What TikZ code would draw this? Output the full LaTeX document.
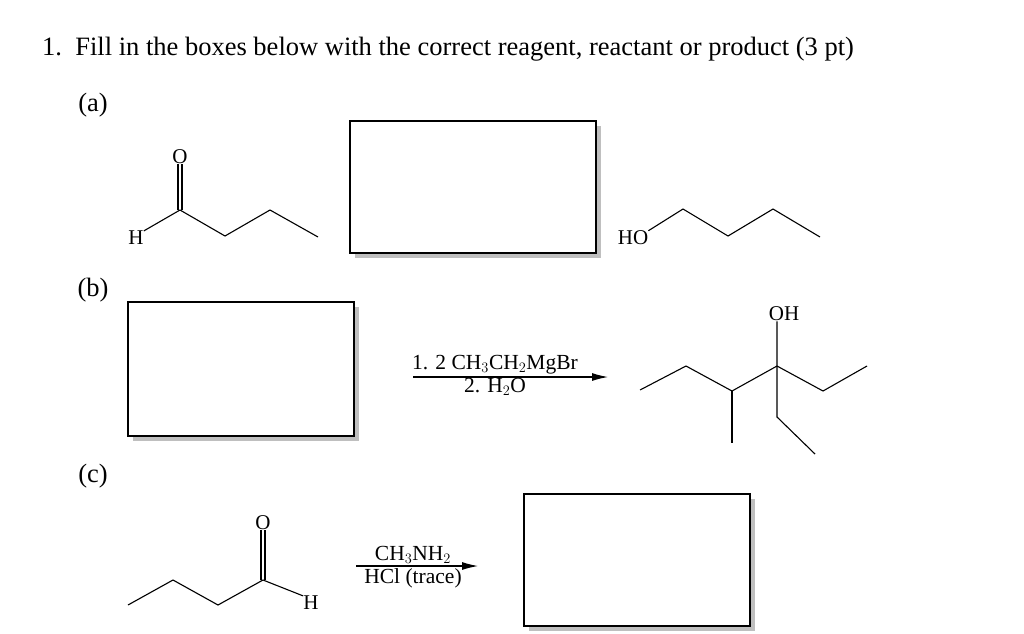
\documentclass[tikz,border=0pt]{standalone}
\usepackage{fontspec}
\setmainfont{Liberation Serif}
\begin{document}
\begin{tikzpicture}[x=1pt,y=-1pt,
 bond/.style={line width=1.1pt},
 atom/.style={font=\fontsize{21}{24}\selectfont,inner sep=0pt},
 reag/.style={font=\fontsize{21.5}{24}\selectfont,inner sep=0pt},
 lbl/.style={font=\fontsize{26.5}{30}\selectfont,inner sep=0pt},
 ansbox/.style={draw,line width=1.1pt,fill=white},
 shadow/.style={fill=black!25,draw=none},
 rarrow/.style={line width=1.1pt,-{Latex[length=16pt,width=8pt]}}]
\usetikzlibrary{arrows.meta}
\useasboundingbox (0,0) rectangle (1024,633);
\node[lbl,anchor=base west] (title) at (42,55) {1.\ \ Fill in the boxes below with the correct reagent, reactant or product (3 pt)};
\node[lbl] (la) at (93,105) {(a)};
\node[lbl] (lb) at (93,290) {(b)};
\node[lbl] (lc) at (93,476) {(c)};
% (a)
\node[atom] (aO) at (180,157) {O};
\node[atom] (aH) at (136,238) {H};
\coordinate (a1) at (180,210);
\coordinate (a2) at (225,236);
\coordinate (a3) at (270,210);
\coordinate (a4) at (318,237);
\draw[bond] (aH.north east) -- (a1) -- (a2) -- (a3) -- (a4);
\draw[bond] ([xshift=-2pt]a1) -- ([xshift=-2pt]aO.south);
\draw[bond] ([xshift=2pt]a1) -- ([xshift=2pt]aO.south);
\fill[shadow] (355,126) rectangle (601,258);
\draw[ansbox] (350,121) rectangle (596,253);
\node[atom] (aHO) at (633,238) {HO};
\coordinate (b1) at (683,209);
\coordinate (b2) at (728,236);
\coordinate (b3) at (773,209);
\coordinate (b4) at (820,237);
\draw[bond] (aHO.north east) -- (b1) -- (b2) -- (b3) -- (b4);
% (b)
\fill[shadow] (133,307) rectangle (359,441);
\draw[ansbox] (128,302) rectangle (354,436);
\coordinate (r1) at (413,377);
\coordinate (r2) at (608,377);
\draw[rarrow] (r1) -- (r2);
\node[reag,anchor=south] (rb1) at (495,374) {1. 2 CH$_3$CH$_2$MgBr};
\node[reag,anchor=north] (rb2) at (495,378) {2. H$_2$O};
\coordinate (c1) at (640,390);
\coordinate (c2) at (686,366);
\coordinate (c3) at (732,391);
\coordinate (c3m) at (732,443);
\coordinate (c4) at (777,366);
\node[atom] (OH) at (784,314) {OH};
\coordinate (c5) at (823,391);
\coordinate (c6) at (867,366);
\coordinate (c7) at (777,417);
\coordinate (c8) at (815,454);
\draw[bond] (c1) -- (c2) -- (c3) -- (c4) -- (c5) -- (c6);
\draw[bond] (c3) -- (c3m);
\draw[bond] (OH.south -| c4) -- (c4) -- (c7) -- (c8);
% (c)
\coordinate (d1) at (128,605);
\coordinate (d2) at (173,580);
\coordinate (d3) at (218,605);
\coordinate (d4) at (263,580);
\node[atom] (dO) at (263,523) {O};
\node[atom] (dH) at (311,603) {H};
\draw[bond] (d1) -- (d2) -- (d3) -- (d4) -- (dH.north west);
\draw[bond] ([xshift=-2pt]d4) -- ([xshift=-2pt]dO.south);
\draw[bond] ([xshift=2pt]d4) -- ([xshift=2pt]dO.south);
\coordinate (s1) at (356,566);
\coordinate (s2) at (478,566);
\draw[rarrow] (s1) -- (s2);
\node[reag,anchor=south] (rc1) at (413,564) {CH$_3$NH$_2$};
\node[reag,anchor=north] (rc2) at (413,568) {HCl (trace)};
\fill[shadow] (529,499) rectangle (755,631);
\draw[ansbox] (524,494) rectangle (750,626);
\end{tikzpicture}
\end{document}
